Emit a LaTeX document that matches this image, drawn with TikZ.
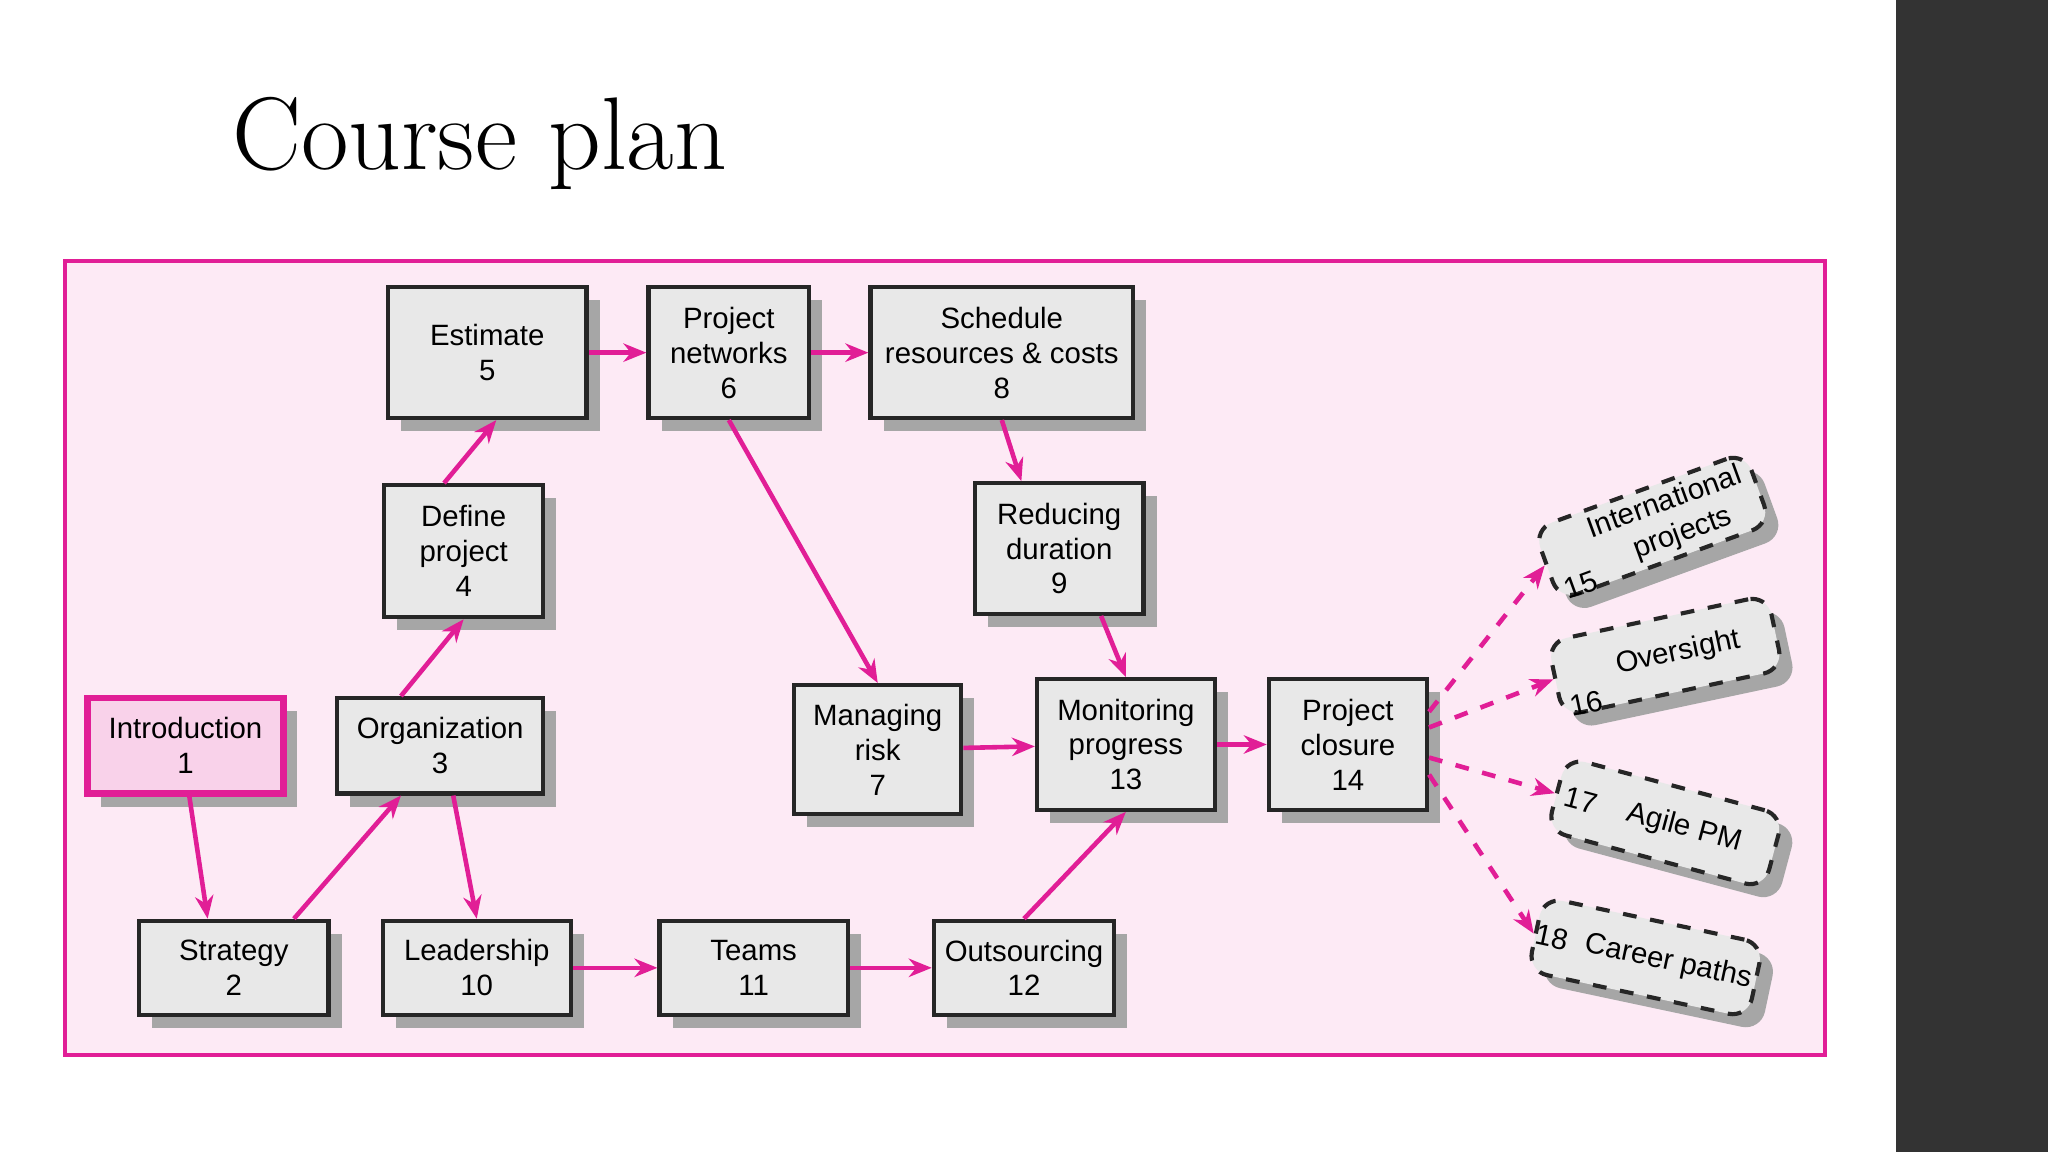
\documentclass[tikz,border=0pt]{standalone}
\usepackage{fontspec}
\setmainfont{Liberation Sans}
\newfontfamily\titlefont{Latin Modern Roman}
\usetikzlibrary{arrows.meta,shadows,calc}
\definecolor{bgpink}{RGB}{253,234,245}
\definecolor{edgepink}{RGB}{225,30,150}
\definecolor{boxgray}{RGB}{232,232,232}
\tikzset{
  box/.style={draw=black!85, line width=0.9pt, fill=boxgray, align=center,
    font=\fontsize{6.4}{7.6}\selectfont, inner sep=1pt,
    drop shadow={shadow xshift=0.1cm, shadow yshift=-0.1cm, fill=black!35, opacity=1}},
  extra/.style={box, dashed, rounded corners=0.15cm, minimum width=1.72cm, minimum height=0.58cm},
  num/.style={font=\fontsize{6.4}{7.6}\selectfont, inner sep=0pt},
  link/.style={-{Stealth[length=5pt,width=4pt]}, draw=edgepink, line width=1pt},
  opt/.style={link, dashed}
}
\begin{document}
\begin{tikzpicture}[x=0.01cm,y=-0.01cm]
  \useasboundingbox (0,0) rectangle (1568,882);
  \fill[white] (0,0) rectangle (1568,882);
  \fill[black!80] (1452,0) rectangle (1568,882);
  \node[anchor=base west, inner sep=0pt, font=\titlefont\fontsize{22.5}{26}\selectfont] (title) at (177,130) {Course plan};
  \draw[edgepink, fill=bgpink, line width=0.9pt] (50,200) rectangle (1397,808);
  % chapter boxes
  \node[box, fill=edgepink!20, draw=edgepink, line width=1.4pt, minimum width=1.50cm, minimum height=0.73cm] (intro) at (142,571) {Introduction\\1};
  \node[box, minimum width=1.45cm, minimum height=0.72cm] (strategy) at (179,741) {Strategy\\2};
  \node[box, minimum width=1.58cm, minimum height=0.73cm] (org) at (337,571) {Organization\\3};
  \node[box, minimum width=1.22cm, minimum height=1.01cm] (define) at (355,422) {Define\\project\\4};
  \node[box, minimum width=1.52cm, minimum height=1.00cm] (estimate) at (373,270) {Estimate\\5};
  \node[box, minimum width=1.23cm, minimum height=1.00cm] (networks) at (558,270) {Project\\networks\\6};
  \node[box, minimum width=1.28cm, minimum height=0.99cm] (risk) at (672,574) {Managing\\risk\\7};
  \node[box, minimum width=2.01cm, minimum height=1.00cm] (schedule) at (767,270) {Schedule\\resources \& costs\\8};
  \node[box, minimum width=1.29cm, minimum height=1.00cm] (reducing) at (811,420) {Reducing\\duration\\9};
  \node[box, minimum width=1.44cm, minimum height=0.72cm] (leadership) at (365,741) {Leadership\\10};
  \node[box, minimum width=1.44cm, minimum height=0.72cm] (teams) at (577,741) {Teams\\11};
  \node[box, minimum width=1.38cm, minimum height=0.72cm] (outsourcing) at (784,741) {Outsourcing\\12};
  \node[box, minimum width=1.36cm, minimum height=1.00cm] (monitoring) at (862,570) {Monitoring\\progress\\13};
  \node[box, minimum width=1.21cm, minimum height=1.00cm] (closure) at (1032,570) {Project\\closure\\14};
  % optional chapters
  \node[extra, rotate=20] (intl) at (1265,403) {\hspace{0.3cm}International\\\hspace{0.4cm}projects};
  \node[extra, rotate=12] (oversight) at (1275,502) {\hspace{0.2cm}Oversight};
  \node[extra, rotate=-15] (agile) at (1275,630) {\hspace{0.3cm}Agile PM};
  \node[extra, rotate=-12] (career) at (1260,733) {\hspace{0.35cm}Career paths};
  \node[num, rotate=20] (n15) at ($(intl.south west)!0.12!(intl.north east)$) {15};
  \node[num, rotate=12] (n16) at ($(oversight.south west)!0.12!(oversight.north east)$) {16};
  \node[num, rotate=-15] (n17) at ($(agile.west)!0.12!(agile.east)$) {17};
  \node[num, rotate=-12] (n18) at ($(career.west)!0.08!(career.east)$) {18};
  % links
  \draw[link] ([xshift=0.03cm]intro.south) -- ([xshift=-0.2cm]strategy.north);
  \draw[link] ([xshift=0.46cm]strategy.north) -- ([xshift=-0.3cm]org.south);
  \draw[link] ([xshift=-0.3cm]org.north) -- (define.south);
  \draw[link] ([xshift=-0.15cm]define.north) -- ([xshift=0.07cm]estimate.south);
  \draw[link] ([xshift=0.1cm]org.south) -- (leadership.north);
  \draw[link] (estimate) -- (networks);
  \draw[link] (networks) -- (schedule);
  \draw[link] (networks.south) -- (risk.north);
  \draw[link] (schedule.south) -- ([xshift=-0.29cm]reducing.north);
  \draw[link] ([xshift=0.32cm]reducing.south) -- (monitoring.north);
  \draw[link] (risk) -- (monitoring);
  \draw[link] (monitoring) -- (closure);
  \draw[link] (leadership) -- (teams);
  \draw[link] (teams) -- (outsourcing);
  \draw[link] (outsourcing.north) -- (monitoring.south);
  \draw[opt] ([yshift=0.25cm]closure.east) -- (intl.west);
  \draw[opt] ([yshift=0.13cm]closure.east) -- (oversight.west);
  \draw[opt] ([yshift=-0.1cm]closure.east) -- (agile.west);
  \draw[opt] ([yshift=-0.23cm]closure.east) -- (career.west);
\end{tikzpicture}
\end{document}
